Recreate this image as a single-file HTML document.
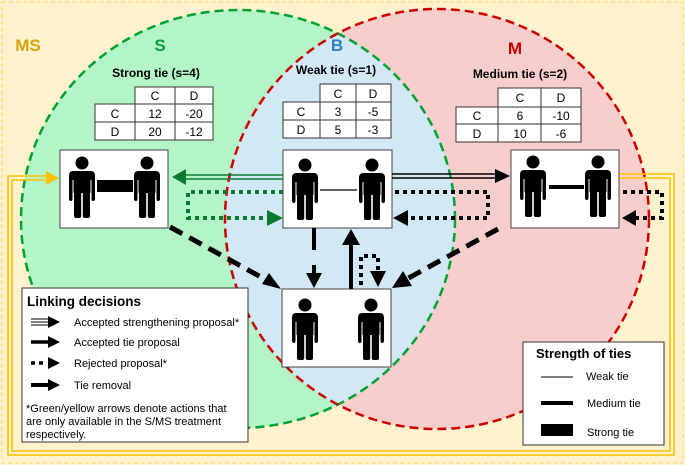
<!DOCTYPE html>
<html><head><meta charset="utf-8"><style>
body{margin:0;background:#fff}
svg{display:block}
text{font-family:"Liberation Sans",Arial,sans-serif}
</style></head><body>
<svg width="685" height="465" viewBox="0 0 685 465" xmlns="http://www.w3.org/2000/svg">
<defs>
<g id="p">
<circle cx="0" cy="0" r="6.5" fill="#000"/>
<path d="M-9,8 H9 Q13,8 13,13 V36 Q13,38 11,38 Q9.5,38 9.5,36 V17 H8.5 V30 H-8.5 V17 H-9.5 V36 Q-9.5,38 -11,38 Q-13,38 -13,36 V13 Q-13,8 -9,8 Z" fill="#000"/>
<rect x="-8" y="27" width="7.2" height="28" rx="2" fill="#000"/>
<rect x="0.8" y="27" width="7.2" height="28" rx="2" fill="#000"/>
</g>
</defs>
<rect x="0" y="0" width="685" height="465" fill="#fff2cc"/>
<rect x="2" y="2" width="681" height="461" fill="none" stroke="#ffe39a" stroke-width="2" stroke-dasharray="4 3"/>
<ellipse cx="238" cy="219" rx="217" ry="209" fill="#b3f5c7"/>
<ellipse cx="437" cy="219" rx="212" ry="210" fill="#f8cecc"/>
<clipPath id="cg"><ellipse cx="238" cy="219" rx="217" ry="209"/></clipPath>
<ellipse cx="437" cy="219" rx="212" ry="210" fill="#d2e9f5" clip-path="url(#cg)"/>
<ellipse cx="238" cy="219" rx="217" ry="209" fill="none" stroke="#00a033" stroke-width="2.5" stroke-dasharray="9 5"/>
<ellipse cx="437" cy="219" rx="212" ry="210" fill="none" stroke="#cc0000" stroke-width="2.5" stroke-dasharray="9 5"/>
<g font-weight="bold" font-size="17" text-anchor="middle">
<text x="28" y="51" fill="#d8a20a">MS</text>
<text x="160" y="51" fill="#0a9e40">S</text>
<text x="337" y="51" fill="#2f7ec6">B</text>
<text x="515" y="54" fill="#c00000">M</text>
</g>
<g font-weight="bold" font-size="12" text-anchor="middle">
<text x="156" y="77">Strong tie (s=4)</text>
<text x="336" y="74">Weak tie (s=1)</text>
<text x="520" y="78">Medium tie (s=2)</text>
</g>
<g stroke="#333" stroke-width="1" fill="#fff">
<rect x="135" y="87" width="78" height="17"/><rect x="95" y="104" width="118" height="36"/>
<path d="M175,87V140M135,104V140M95,122H213" fill="none"/>
<rect x="320" y="84" width="71" height="18"/><rect x="283" y="102" width="108" height="36"/>
<path d="M356,84V138M320,102V138M283,120H391" fill="none"/>
<rect x="498" y="88" width="83" height="19"/><rect x="456" y="107" width="125" height="35"/>
<path d="M541,88V142M498,107V142M456,124H581" fill="none"/>
</g>
<g font-size="12" text-anchor="middle">
<text x="155" y="100">C</text><text x="194" y="100">D</text>
<text x="115" y="118">C</text><text x="155" y="118">12</text><text x="194" y="118">-20</text>
<text x="115" y="136">D</text><text x="155" y="136">20</text><text x="194" y="136">-12</text>
<text x="338" y="98">C</text><text x="373" y="98">D</text>
<text x="301" y="116">C</text><text x="338" y="116">3</text><text x="373" y="116">-5</text>
<text x="301" y="134">D</text><text x="338" y="134">5</text><text x="373" y="134">-3</text>
<text x="520" y="102">C</text><text x="561" y="102">D</text>
<text x="477" y="120">C</text><text x="520" y="120">6</text><text x="561" y="120">-10</text>
<text x="477" y="138">D</text><text x="520" y="138">10</text><text x="561" y="138">-6</text>
</g>
<g fill="none" stroke="#ffc000" stroke-width="1.6">
<path d="M620,174 H674 V455 H8 V176 H50"/>
<path d="M620,178 H670 V451 H12 V180 H50"/>
</g>
<path d="M46,171 L59,178 L46,185Z" fill="#ffc000"/>
<g fill="#fff" stroke="#444" stroke-width="1">
<rect x="60" y="150" width="108" height="78"/>
<rect x="283" y="150" width="109" height="78"/>
<rect x="511" y="150" width="108" height="78"/>
<rect x="282" y="289" width="109" height="78"/>
</g>
<use href="#p" x="82" y="163"/><use href="#p" x="147" y="163"/>
<rect x="97" y="180" width="36" height="12" fill="#000"/>
<use href="#p" x="305" y="165"/><use href="#p" x="372" y="165"/>
<line x1="320" y1="190" x2="357" y2="190" stroke="#000" stroke-width="1.3"/>
<use href="#p" x="533" y="162"/><use href="#p" x="598" y="162"/>
<rect x="549" y="185" width="35" height="4" fill="#000"/>
<use href="#p" x="305" y="305"/><use href="#p" x="371" y="305"/>
<g stroke="#0a7a30" fill="none">
<path d="M283,175 H182 M283,179 H182" stroke-width="1.5"/>
<path d="M283,192 H188 V218 H268" stroke-width="4" stroke-dasharray="4 4"/>
</g>
<path d="M186,169 L172,177 L186,185Z" fill="#0a7a30"/>
<path d="M267,210 L283,218 L267,226Z" fill="#0a7a30"/>
<path d="M392,174 H496 M392,178 H496" stroke="#000" stroke-width="1.5" fill="none"/>
<path d="M495,169 L510,176 L495,183Z" fill="#000"/>
<path d="M395,192 H488 V218 H408" stroke="#000" stroke-width="4" stroke-dasharray="4 4" fill="none"/>
<path d="M408,210 L393,218 L408,226Z" fill="#000"/>
<path d="M623,192 H662 V218 H636" stroke="#000" stroke-width="4" stroke-dasharray="4 4" fill="none"/>
<path d="M636,210 L622,218 L636,226Z" fill="#000"/>
<path d="M170,227 L270,282" stroke="#000" stroke-width="5" stroke-dasharray="14 8" fill="none"/>
<path d="M262,284 L281,289 L269,273Z" fill="#000"/>
<path d="M498,229 L405,280" stroke="#000" stroke-width="5" stroke-dasharray="14 8" fill="none"/>
<path d="M392,288 L412,286 L403,271Z" fill="#000"/>
<path d="M314,228 V250 M314,265 V275" stroke="#000" stroke-width="4" fill="none"/>
<path d="M306,273 L314,288 L322,273Z" fill="#000"/>
<path d="M351,289 V244" stroke="#000" stroke-width="4" fill="none"/>
<path d="M342,245 L351,229 L360,245Z" fill="#000"/>
<path d="M361,285 V256 H378 V270" stroke="#000" stroke-width="4" stroke-dasharray="4 4" fill="none"/>
<path d="M370,271 L378,287 L386,271Z" fill="#000"/>
<rect x="22" y="288" width="226" height="154" fill="#fff" stroke="#333" stroke-width="1"/>
<text x="27" y="306" font-size="13.5" font-weight="bold">Linking decisions</text>
<g font-size="11">
<text x="74" y="326">Accepted strengthening proposal*</text>
<text x="74" y="346">Accepted tie proposal</text>
<text x="74" y="367">Rejected proposal*</text>
<text x="74" y="389">Tie removal</text>
<text x="26" y="412">*Green/yellow arrows denote actions that</text>
<text x="26" y="425">are only available in the S/MS treatment</text>
<text x="26" y="438">respectively.</text>
</g>
<path d="M31,319 H50 M31,322 H50 M31,325 H50" stroke="#000" stroke-width="0.9"/>
<path d="M48,316 L60,322 L48,328Z" fill="#000"/>
<path d="M31,342 H50" stroke="#000" stroke-width="3.5"/><path d="M48,336 L60,342 L48,348Z" fill="#000"/>
<path d="M31,363 H46" stroke="#000" stroke-width="3.5" stroke-dasharray="4 4"/><path d="M48,357 L60,363 L48,369Z" fill="#000"/>
<path d="M31,385 H50" stroke="#000" stroke-width="4"/><path d="M48,379 L60,385 L48,391Z" fill="#000"/>
<rect x="523" y="342" width="141" height="103" fill="#fff" stroke="#333" stroke-width="1"/>
<text x="536" y="358" font-size="13" font-weight="bold">Strength of ties</text>
<g font-size="11">
<text x="586" y="380">Weak tie</text>
<text x="587" y="407">Medium tie</text>
<text x="587" y="436">Strong tie</text>
</g>
<line x1="541" y1="377" x2="573" y2="377" stroke="#000" stroke-width="1"/>
<rect x="541" y="401" width="32" height="4" fill="#000"/>
<rect x="541" y="424" width="32" height="12" fill="#000"/>
</svg>
</body></html>
